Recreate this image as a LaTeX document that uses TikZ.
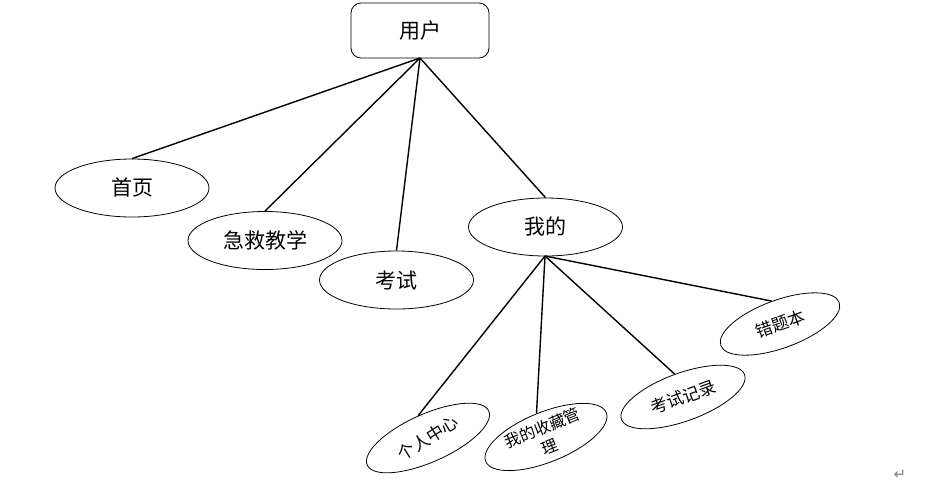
\documentclass[tikz,border=0pt]{standalone}
\usepackage{fontspec}
\newfontfamily\cjk{Noto Sans CJK SC}
\newfontfamily\dejavu{DejaVu Sans}
\usetikzlibrary{shapes.geometric}
\tikzset{
  topbox/.style={draw, rounded corners=10pt, minimum width=138pt, minimum height=55pt, inner sep=0pt, font=\cjk\fontsize{21}{24}\selectfont, line width=0.8pt},
  bigell/.style={draw, ellipse, minimum width=154pt, minimum height=58pt, inner sep=0pt, font=\cjk\fontsize{21}{24}\selectfont, line width=0.8pt},
  smallell/.style={draw, ellipse, inner sep=0pt, font=\cjk\fontsize{17}{20}\selectfont, line width=0.8pt},
  link/.style={line width=1.4pt}
}
\begin{document}
\begin{tikzpicture}[x=1pt,y=-1pt]
\useasboundingbox (0,0) rectangle (932,483);
\node[topbox] (user) at (420,30.5) {用户};
\node[bigell] (home) at (132,188) {首页};
\node[bigell] (aid) at (265,240.5) {急救教学};
\node[bigell] (exam) at (396.5,280) {考试};
\node[bigell] (mine) at (545.5,227) {我的};
\node[smallell, minimum width=133pt, minimum height=48pt, rotate=24] (center) at (428,438) {\rotatebox{8}{个人中心}};
\node[smallell, minimum width=130pt, minimum height=50pt, rotate=22, align=center, font=\cjk\fontsize{16}{20}\selectfont] (fav) at (546,437) {我的收藏管\\理};
\node[smallell, minimum width=131pt, minimum height=48pt, rotate=20] (rec) at (683,397) {考试记录};
\node[smallell, minimum width=126pt, minimum height=48pt, rotate=20] (wrong) at (780,324) {错题本};
\coordinate (ub) at (420,58);
\coordinate (mb) at (545,256);
\draw[link] (ub) -- (home.north);
\draw[link] (ub) -- (aid.north);
\draw[link] (ub) -- (exam.north);
\draw[link] (ub) -- (mine.north);
\draw[link] (mb) -- (center.north);
\draw[link] (mb) -- (fav.north);
\draw[link] (mb) -- (rec.north);
\draw[link] (mb) -- (wrong.north);
\node[font=\dejavu\fontsize{15}{17}\selectfont, text=gray] (mark) at (900,475) {↵};
\end{tikzpicture}
\end{document}
